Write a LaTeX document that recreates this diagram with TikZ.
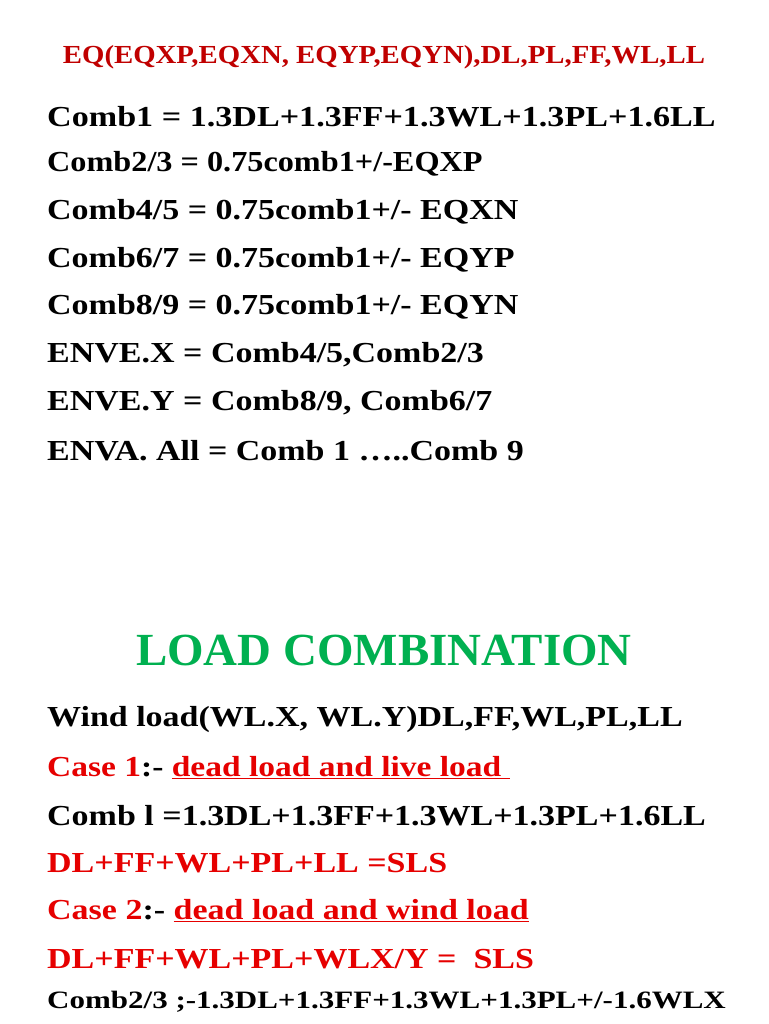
\documentclass[tikz,border=0pt]{standalone}
\usepackage{fontspec}
\setmainfont{Liberation Serif}
\definecolor{rd}{RGB}{230,0,0}
\definecolor{drd}{RGB}{192,0,0}
\definecolor{gr}{RGB}{0,176,80}
\newcommand{\sx}[1]{\scalebox{1.172}[1]{#1}}
\begin{document}
\begin{tikzpicture}[x=1pt,y=-1pt,
  ln/.style={anchor=west,inner sep=0pt,font=\fontsize{29}{32}\selectfont\bfseries}]
\useasboundingbox[fill=white] (0,0) rectangle (768,1024);
\node[anchor=center,inner sep=0pt,text=drd,font=\fontsize{26}{28}\selectfont\bfseries] (t) at (384,57) {\scalebox{1.107}[1]{EQ(EQXP,EQXN, EQYP,EQYN),DL,PL,FF,WL,LL}};
\node[ln] (a1) at (47,117) {\scalebox{1.176}[1]{Comb1 = 1.3DL+1.3FF+1.3WL+1.3PL+1.6LL}};
\node[ln] (a2) at (47,164) {\scalebox{1.112}[1]{Comb2/3 = 0.75comb1+/-EQXP}};
\node[ln] (a3) at (47,212) {\sx{Comb4/5 = 0.75comb1+/- EQXN}};
\node[ln] (a4) at (47,260) {\sx{Comb6/7 = 0.75comb1+/- EQYP}};
\node[ln] (a5) at (47,307) {\sx{Comb8/9 = 0.75comb1+/- EQYN}};
\node[ln] (a6) at (47,355) {\sx{ENVE.X = Comb4/5,Comb2/3}};
\node[ln] (a7) at (47,403) {\sx{ENVE.Y = Comb8/9, Comb6/7}};
\node[ln] (a8) at (47,451) {\sx{ENVA. All = Comb 1 …..Comb 9}};
\node[anchor=center,inner sep=0pt,text=gr,font=\fontsize{46}{50}\selectfont\bfseries] (h) at (384,650) {\scalebox{1.02}[1]{LOAD COMBINATION}};
\node[ln] (b1) at (47,720) {\sx{Wind load(WL.X, WL.Y)DL,FF,WL,PL,LL}};
\node[ln,text=rd] (b2) at (47,768) {\scalebox{1.155}[1]{Case 1\textcolor{black}{:-} \underline{dead load and live load\ }}};
\node[ln] (b3) at (47,816) {\sx{Comb l =1.3DL+1.3FF+1.3WL+1.3PL+1.6LL}};
\node[ln,text=rd] (b4) at (47,863) {\sx{DL+FF+WL+PL+LL =SLS}};
\node[ln,text=rd] (b5) at (47,911) {\sx{Case 2\textcolor{black}{:-} \underline{dead load and wind load}}};
\node[ln,text=rd] (b6) at (47,959) {\sx{DL+FF+WL+PL+WLX/Y = \ SLS}};
\node[anchor=west,inner sep=0pt,font=\fontsize{25}{27}\selectfont\bfseries] (b7) at (47,1002) {\scalebox{1.24}[1]{Comb2/3 ;-1.3DL+1.3FF+1.3WL+1.3PL+/-1.6WLX}};
\end{tikzpicture}
\end{document}
